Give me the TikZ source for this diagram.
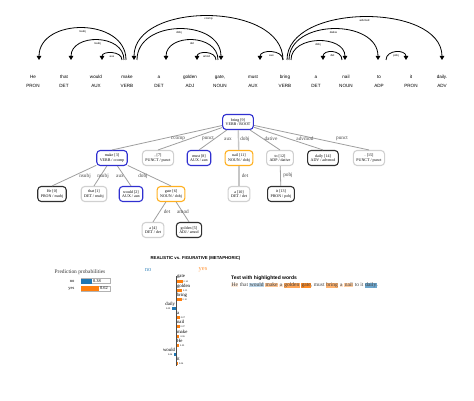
\documentclass[tikz,border=0pt]{standalone}
\usepackage{fontspec}
\setmainfont{Liberation Serif}
\setsansfont{Liberation Sans}
\usetikzlibrary{arrows.meta,calc}
\definecolor{cblue}{HTML}{1F77B4}
\definecolor{corange}{HTML}{FF7F0E}
\definecolor{nodeblue}{HTML}{3030D0}
\definecolor{nodeorange}{HTML}{FFB020}
\definecolor{nodegray}{HTML}{D0D0D0}
\definecolor{nodeblack}{HTML}{303030}
\tikzset{
  word/.style={font=\sffamily\fontsize{4.6}{5}\selectfont, inner sep=0pt},
  arcline/.style={line width=0.8pt, black},
  arctip/.style={-{Triangle[width=4.5pt,length=4pt]}},
  arclab/.style={font=\sffamily\fontsize{2.8}{3}\selectfont, inner sep=0.3pt, fill=white},
  tnode/.style={draw, rounded corners=3.5pt, line width=1.1pt, align=center,
    font=\fontsize{4}{4.6}\selectfont, inner xsep=3pt, inner ysep=1.5pt, minimum height=15pt},
  nblue/.style={tnode, draw=nodeblue},
  norg/.style={tnode, draw=nodeorange},
  ngray/.style={tnode, draw=nodegray},
  nblack/.style={tnode, draw=nodeblack},
  tedge/.style={draw=gray!75, line width=0.8pt},
  tlab/.style={font=\fontsize{5.3}{6}\selectfont, text=black!70, inner sep=0.5pt},
  ftw/.style={font=\fontsize{4.8}{5}\selectfont, inner sep=0pt},
  ftv/.style={font=\fontsize{2.4}{3}\selectfont, inner sep=0pt},
}
\newcommand{\deparc}[6]{% name, xs, xe, top, label, tip
  \coordinate (#1s) at (#2,60);
  \coordinate (#1e) at (#3,60);
  \draw[arcline,#6] (#1s) .. controls ($(#1s)+(0,{-(60-#4)/0.75})$) and ($(#1e)+(0,{-(60-#4)/0.75})$) .. (#1e);
  \node[arclab] (#1l) at ({(#2+#3)/2},{#4+3.5}) {#5};
}
\begin{document}
\begin{tikzpicture}[x=1pt,y=-1pt]
\useasboundingbox (0,0) rectangle (474,401);
% ---------------- dependency arcs (displaCy) ----------------
\foreach \n/\x/\w/\p in {w0/33/He/PRON, w1/64/that/DET, w2/96/would/AUX, w3/127/make/VERB,
  w4/159/a/DET, w5/190/golden/ADJ, w6/220/{gate,}/NOUN, w7/253/must/AUX, w8/285/bring/VERB,
  w9/316/a/DET, w10/346/nail/NOUN, w11/379/to/ADP, w12/411/it/PRON, w13/442/daily./ADV}{
  \node[word] (\n) at (\x,77) {\w};
  \node[word] (\n p) at (\x,86) {\p};
}
\deparc{a1}{126}{39}{28}{nsubj}{arctip}
\deparc{a2}{124}{71}{40}{nsubj}{arctip}
\deparc{a3}{122}{102}{53}{aux}{arctip}
\deparc{a4}{283}{134}{16}{ccomp}{arctip}
\deparc{a5}{137}{221}{29}{dobj}{arctip}
\deparc{a6}{218}{166}{40}{det}{arctip}
\deparc{a7}{216}{197}{53}{amod}{arctip}
\deparc{a8}{283}{260}{52}{aux}{arctip}
\deparc{a9}{291}{345}{41}{dobj}{arctip}
\deparc{a10}{342}{323}{52}{det}{arctip}
\deparc{a11}{289}{378}{29}{dative}{arctip}
\deparc{a12}{386}{406}{52}{pobj}{arctip}
\deparc{a13}{287}{442}{17}{advmod}{arctip}
% ---------------- tree ----------------
\node[nblue] (bring) at (238,122) {bring [9]\\VERB / ROOT};
\node[nblue] (make) at (112,158) {make [3]\\VERB / ccomp};
\node[ngray] (p7) at (158,158) {, [7]\\PUNCT / punct};
\node[nblue] (must) at (199,158) {must [8]\\AUX / aux};
\node[norg] (nail) at (239,158) {nail [11]\\NOUN / dobj};
\node[ngray] (to) at (280,158) {to [12]\\ADP / dative};
\node[nblack] (daily) at (323,158) {daily [14]\\ADV / advmod};
\node[ngray] (p15) at (369,158) {. [15]\\PUNCT / punct};
\node[nblack] (he) at (52,194) {He [0]\\PRON / nsubj};
\node[ngray] (that) at (94,194) {that [1]\\DET / nsubj};
\node[nblue] (would) at (131,194) {would [2]\\AUX / aux};
\node[norg] (gate) at (171,194) {gate [6]\\NOUN / dobj};
\node[ngray] (a10) at (239,194) {a [10]\\DET / det};
\node[nblack] (it) at (281,194) {it [13]\\PRON / pobj};
\node[ngray] (a4) at (153,230) {a [4]\\DET / det};
\node[nblack] (golden) at (189,230) {golden [5]\\ADJ / amod};
\foreach \c in {make,p7,must,to,daily,p15}{\draw[tedge] (bring) -- (\c.north);}
\draw[draw=gray!45, line width=1.4pt] (bring) -- (nail);
\foreach \c in {he,that,would,gate}{\draw[tedge] (make) -- (\c.north);}
\draw[draw=gray!45, line width=1.4pt] (nail) -- (a10);
\draw[tedge] (to) -- (it);
\draw[tedge] (gate) -- (a4.north);
\draw[tedge] (gate) -- (golden.north);
\node[tlab] (l1) at (178,139) {ccomp};
\node[tlab] (l2) at (208,139) {punct};
\node[tlab] (l3) at (228,139) {aux};
\node[tlab] (l4) at (245,139) {dobj};
\node[tlab] (l5) at (271,139) {dative};
\node[tlab] (l6) at (305,139) {advmod};
\node[tlab] (l7) at (342,139) {punct};
\node[tlab] (l8) at (85,176) {nsubj};
\node[tlab] (l9) at (103,176) {nsubj};
\node[tlab] (l10) at (120,176) {aux};
\node[tlab] (l11) at (143,176) {dobj};
\node[tlab] (l12) at (245,176) {det};
\node[tlab] (l13) at (288,175) {pobj};
\node[tlab] (l14) at (167,212) {det};
\node[tlab] (l15) at (183,212) {amod};
% ---------------- prediction probabilities ----------------
\node[font=\fontsize{5.4}{6}\selectfont, text=black!80] (pp) at (80,272) {Prediction probabilities};
\node[font=\fontsize{4.5}{5}\selectfont, anchor=east] (pno) at (78,281) {no};
\node[font=\fontsize{4.5}{5}\selectfont, anchor=east] (pyes) at (78,288.5) {yes};
\draw[gray!60, line width=0.4pt] (81,278.5) rectangle (110,283.5);
\fill[cblue] (81,278.5) rectangle (92,283.5);
\node[font=\fontsize{4.4}{5}\selectfont, anchor=west, inner sep=0.8pt] (vno) at (92,281) {0.38};
\draw[gray!60, line width=0.4pt] (81,286) rectangle (110,291);
\fill[corange] (81,286) rectangle (99,291);
\node[font=\fontsize{4.4}{5}\selectfont, anchor=west, inner sep=0.8pt] (vyes) at (99,288.5) {0.62};
% ---------------- feature chart ----------------
\node[font=\sffamily\bfseries\fontsize{4.3}{5}\selectfont] (title) at (195.5,258) {REALISTIC vs. FIGURATIVE (METAPHORIC)};
\node[font=\fontsize{6.5}{7}\selectfont, text=cblue!80] (cno) at (148,270) {no};
\node[font=\fontsize{6.5}{7}\selectfont, text=corange!80] (cyes) at (203,270) {yes};
\draw[black!70, line width=0.9pt] (176,276) -- (176,366);
\foreach \w/\y/\v/\t in {gate/277/6/0.14, golden/286/5.5/0.13, bring/295/5/0.12, a/313/3.2/0.07,
   nail/322/3/0.07, make/332/2.8/0.06, He/341/2.5/0.05, it/359/1.3/0.04}{
  \node[ftw, anchor=west] at (176.8,\y) {\w};
  \fill[corange] (176.5,\y+3) rectangle (176.5+\v,\y+5.6);
  \node[ftv, anchor=west] at (177.5+\v,\y+4.3) {\t};
}
\foreach \w/\y/\v/\t in {daily/304/4/0.09, would/350/2/0.04}{
  \node[ftw, anchor=east] at (175.2,\y) {\w};
  \fill[cblue] (175.5,\y+3) rectangle (175.5-\v,\y+5.6);
  \node[ftv, anchor=east] at (174.5-\v,\y+4.3) {\t};
}
% ---------------- highlighted text ----------------
\node[font=\sffamily\bfseries\fontsize{5}{6}\selectfont, anchor=west, inner sep=0pt] (ht) at (231,278) {Text with highlighted words};
\setlength{\fboxsep}{0.4pt}
\node[font=\fontsize{5.5}{6}\selectfont, anchor=west, inner sep=0pt, text=black!75] (hl) at (231,285.5) {%
\colorbox{corange!15}{He} that \colorbox{cblue!30}{would} \colorbox{corange!45}{make} \colorbox{corange!20}{a} \colorbox{corange!70}{golden} \colorbox{corange!90}{gate}, must \colorbox{corange!60}{bring} \colorbox{corange!20}{a} \colorbox{corange!40}{nail} to it \colorbox{cblue!65}{daily}.};
\end{tikzpicture}
\end{document}
